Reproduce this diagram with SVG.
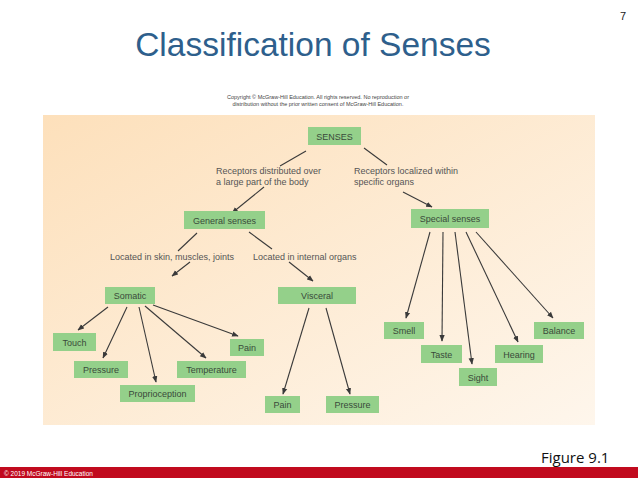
<svg xmlns="http://www.w3.org/2000/svg" width="638" height="478" viewBox="0 0 638 478">
<style>
.b{fill:#94d08a}
.t{font-family:"Liberation Sans",Arial,sans-serif;font-size:9px;fill:#3a4a3a;text-anchor:middle}
.l{font-family:"Liberation Sans",Arial,sans-serif;font-size:9px;fill:#555}
.c line{stroke:#3a3a3a;stroke-width:1.1}
</style>
<defs>
<linearGradient id="g" x1="0" y1="0" x2="1" y2="1"><stop offset="0" stop-color="#fde0bb"/><stop offset="1" stop-color="#fef6ec"/></linearGradient>
<marker id="a" viewBox="0 0 10 10" refX="9" refY="5" markerWidth="6" markerHeight="6" orient="auto"><path d="M0,1L10,5L0,9z" fill="#3a3a3a"/></marker>
</defs>
<rect width="638" height="478" fill="#fff"/>
<text x="620" y="20" font-family="Liberation Sans,Arial,sans-serif" font-size="11" fill="#222">7</text>
<text x="313" y="56" font-family="Liberation Sans,Arial,sans-serif" font-size="33.5" fill="#2e5f8c" text-anchor="middle">Classification of Senses</text>
<text x="318" y="99" font-family="Liberation Sans,Arial,sans-serif" font-size="5.5" fill="#444" text-anchor="middle">Copyright © McGraw-Hill Education.  All rights reserved. No reproduction or</text>
<text x="318" y="106" font-family="Liberation Sans,Arial,sans-serif" font-size="5.5" fill="#444" text-anchor="middle">distribution without the prior written consent of McGraw-Hill Education.</text>
<rect x="43" y="115" width="552" height="310" fill="url(#g)"/>
<g class="c">
<line x1="306" y1="151" x2="280" y2="166"/>
<line x1="264" y1="187" x2="232" y2="213" marker-end="url(#a)"/>
<line x1="364" y1="148" x2="387" y2="165"/>
<line x1="403" y1="192" x2="432" y2="207" marker-end="url(#a)"/>
<line x1="197" y1="233" x2="178" y2="251"/>
<line x1="190" y1="262" x2="172" y2="276" marker-end="url(#a)"/>
<line x1="249" y1="232" x2="272" y2="249"/>
<line x1="289" y1="262" x2="313" y2="281" marker-end="url(#a)"/>
<line x1="430" y1="232" x2="406" y2="318" marker-end="url(#a)"/>
<line x1="443" y1="232" x2="442" y2="341" marker-end="url(#a)"/>
<line x1="455" y1="232" x2="472" y2="364" marker-end="url(#a)"/>
<line x1="466" y1="232" x2="518" y2="342" marker-end="url(#a)"/>
<line x1="476" y1="232" x2="553" y2="318" marker-end="url(#a)"/>
<line x1="108" y1="307" x2="78" y2="330" marker-end="url(#a)"/>
<line x1="127" y1="307" x2="103" y2="358" marker-end="url(#a)"/>
<line x1="139" y1="307" x2="156" y2="382" marker-end="url(#a)"/>
<line x1="145" y1="306" x2="206" y2="358" marker-end="url(#a)"/>
<line x1="153" y1="305" x2="238" y2="336" marker-end="url(#a)"/>
<line x1="309" y1="308" x2="283" y2="394" marker-end="url(#a)"/>
<line x1="326" y1="308" x2="350" y2="394" marker-end="url(#a)"/>
</g>
<g id="lbl">
<text class="l" x="216" y="174">Receptors distributed over</text>
<text class="l" x="216" y="185">a large part of the body</text>
<text class="l" x="354" y="174">Receptors localized within</text>
<text class="l" x="354" y="185">specific organs</text>
<text class="l" x="110" y="260">Located in skin, muscles, joints</text>
<text class="l" x="253" y="260">Located in internal organs</text>
</g>
<g id="senses"><rect class="b" x="308" y="127" width="53" height="18"/><text class="t" x="334.5" y="139.5">SENSES</text></g>
<g id="general"><rect class="b" x="184" y="211" width="81" height="18"/><text class="t" x="224.5" y="223.5">General senses</text></g>
<g id="special"><rect class="b" x="411" y="209" width="78" height="19"/><text class="t" x="450" y="222">Special senses</text></g>
<g id="somatic"><rect class="b" x="105" y="287" width="50" height="17"/><text class="t" x="130" y="299">Somatic</text></g>
<g id="visceral"><rect class="b" x="278" y="287" width="78" height="17"/><text class="t" x="317" y="299">Visceral</text></g>
<g id="touch"><rect class="b" x="53" y="333" width="43" height="18"/><text class="t" x="74.5" y="345.5">Touch</text></g>
<g id="pressure1"><rect class="b" x="74" y="361" width="54" height="17"/><text class="t" x="101" y="373">Pressure</text></g>
<g id="proprio"><rect class="b" x="120" y="385" width="75" height="17"/><text class="t" x="157.5" y="397">Proprioception</text></g>
<g id="temp"><rect class="b" x="177" y="361" width="69" height="17"/><text class="t" x="211.5" y="373">Temperature</text></g>
<g id="pain1"><rect class="b" x="230" y="339" width="34" height="17"/><text class="t" x="247" y="351">Pain</text></g>
<g id="pain2"><rect class="b" x="265" y="396" width="35" height="17"/><text class="t" x="282.5" y="408">Pain</text></g>
<g id="pressure2"><rect class="b" x="326" y="396" width="53" height="17"/><text class="t" x="352.5" y="408">Pressure</text></g>
<g id="smell"><rect class="b" x="384" y="322" width="40" height="17"/><text class="t" x="404" y="334">Smell</text></g>
<g id="taste"><rect class="b" x="421" y="345" width="41" height="18"/><text class="t" x="441.5" y="357.5">Taste</text></g>
<g id="sight"><rect class="b" x="459" y="368" width="38" height="18"/><text class="t" x="478" y="380.5">Sight</text></g>
<g id="hearing"><rect class="b" x="495" y="345" width="48" height="18"/><text class="t" x="519" y="357.5">Hearing</text></g>
<g id="balance"><rect class="b" x="534" y="322" width="50" height="17"/><text class="t" x="559" y="334">Balance</text></g>
<text x="541" y="463" font-family="Open Sans,Liberation Sans,sans-serif" font-size="15" fill="#111">Figure 9.1</text>
<rect x="0" y="467" width="638" height="11" fill="#c10a1e"/>
<text x="4" y="475.5" font-family="Liberation Sans,Arial,sans-serif" font-size="6.5" fill="#fff">© 2019 McGraw-Hill Education</text>
</svg>
